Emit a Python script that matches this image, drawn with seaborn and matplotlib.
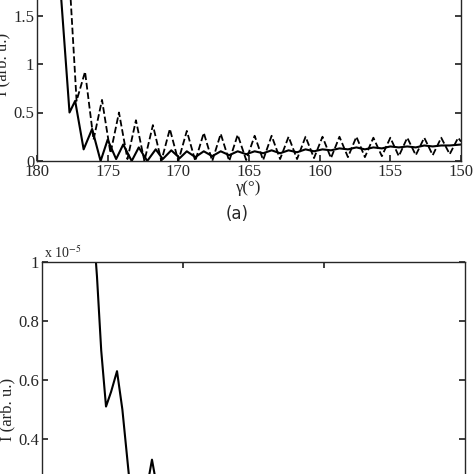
import matplotlib
matplotlib.use("Agg")
import matplotlib.pyplot as plt
import seaborn as sns
import pandas as pd

sns.set_theme(style="ticks")
plt.rcParams['font.family'] = ['Liberation Serif', 'DejaVu Serif']
plt.rcParams['mathtext.fontset'] = 'stix'

# Panel (a) solid curve (extrema)
solid_x = [178.45, 177.7, 177.3, 176.7, 176.1, 175.5, 175.0, 174.4, 173.9, 173.3, 172.8, 172.2,
           171.6, 171.1, 170.5, 169.9, 169.4, 168.8, 168.2, 167.6, 167.0, 166.4, 165.8, 165.2,
           164.6, 164.0, 163.4, 162.8, 162.2, 161.6, 161.0, 160.4, 159.8, 159.2, 158.6, 158.0,
           157.4, 156.8, 156.2, 155.6, 155.0, 154.4, 153.8, 153.2, 152.6, 152.0, 151.4, 150.8, 150.0]
solid_y = [2.0, 0.50, 0.62, 0.12, 0.33, 0.00, 0.22, 0.02, 0.17, 0.00, 0.14, 0.00,
           0.12, 0.02, 0.11, 0.03, 0.10, 0.04, 0.10, 0.05, 0.10, 0.06, 0.10, 0.07,
           0.10, 0.08, 0.11, 0.08, 0.11, 0.09, 0.12, 0.10, 0.12, 0.11, 0.13, 0.12,
           0.14, 0.12, 0.14, 0.13, 0.15, 0.14, 0.15, 0.14, 0.16, 0.15, 0.16, 0.16, 0.17]
# Panel (a) dashed curve
dash_x = [177.75, 177.2, 176.6, 176.0, 175.4, 174.8, 174.2, 173.6, 173.0, 172.4, 171.8, 171.2,
          170.6, 170.0, 169.4, 168.8, 168.2, 167.6, 167.0, 166.4, 165.8, 165.2, 164.6, 164.0,
          163.4, 162.8, 162.2, 161.6, 161.0, 160.4, 159.8, 159.2, 158.6, 158.0, 157.4, 156.8,
          156.2, 155.6, 155.0, 154.4, 153.8, 153.2, 152.6, 152.0, 151.4, 150.8, 150.2, 150.0]
dash_y = [2.0, 0.62, 0.92, 0.22, 0.63, 0.08, 0.50, 0.02, 0.42, 0.00, 0.37, 0.00,
          0.33, 0.00, 0.31, 0.00, 0.29, 0.00, 0.28, 0.00, 0.27, 0.01, 0.26, 0.01,
          0.26, 0.02, 0.25, 0.02, 0.25, 0.03, 0.25, 0.03, 0.25, 0.04, 0.25, 0.04,
          0.24, 0.05, 0.24, 0.05, 0.24, 0.06, 0.24, 0.06, 0.24, 0.07, 0.24, 0.20]
# Panel (b) curve (units of 1e-5)
b_x = [176.25, 176.1, 175.8, 175.46, 175.1, 174.68, 174.3, 173.76, 173.2, 172.5, 172.2, 171.9, 171.7]
b_y = [1.05, 0.95, 0.70, 0.51, 0.56, 0.63, 0.50, 0.24, 0.22, 0.25, 0.33, 0.25, 0.10]

fig = plt.figure(figsize=(4.74, 4.74), dpi=100)
ax1 = fig.add_axes([37/474, (474-161)/474, 424/474, 194/474])
ax2 = fig.add_axes([42/474, (474-557)/474, 423/474, 295/474])

sns.lineplot(x=solid_x, y=solid_y, ax=ax1, color='black', lw=1.5, sort=False, estimator=None)
sns.lineplot(x=dash_x, y=dash_y, ax=ax1, color='black', lw=1.3, ls='--', sort=False, estimator=None)
ax1.set_xlim(180, 150)
ax1.set_ylim(0, 2)
ax1.set_xticks([180, 175, 170, 165, 160, 155, 150])
ax1.set_yticks([0, 0.5, 1, 1.5])
ax1.set_yticklabels(['0', '0.5', '1', '1.5'])
ax1.set_xlabel('γ(°)', fontsize=12, labelpad=0)
ax1.set_ylabel('I (arb. u.)', fontsize=12, labelpad=2)
fig.text(237/474, 1-214/474, '(a)', ha='center', va='center', fontsize=12, family='DejaVu Sans')

sns.lineplot(x=b_x, y=b_y, ax=ax2, color='black', lw=1.5, sort=False, estimator=None)
ax2.set_xlim(180, 150)
ax2.set_ylim(0, 1)
ax2.set_xticks([170, 160])
ax2.set_xticklabels([])
ax2.set_yticks([0.2, 0.4, 0.6, 0.8, 1])
ax2.set_yticklabels(['0.2', '0.4', '0.6', '0.8', '1'])
ax2.set_ylabel('I (arb. u.)', fontsize=12, labelpad=2)
ax2.text(0.005, 1.005, r'x 10$^{-5}$', transform=ax2.transAxes, fontsize=10, va='bottom')

for ax in (ax1, ax2):
    ax.tick_params(direction='in', top=True, right=True, labelsize=12, pad=2, length=4)
    for s in ax.spines.values():
        s.set_linewidth(1.0)

fig.savefig('out.png', dpi=100)
